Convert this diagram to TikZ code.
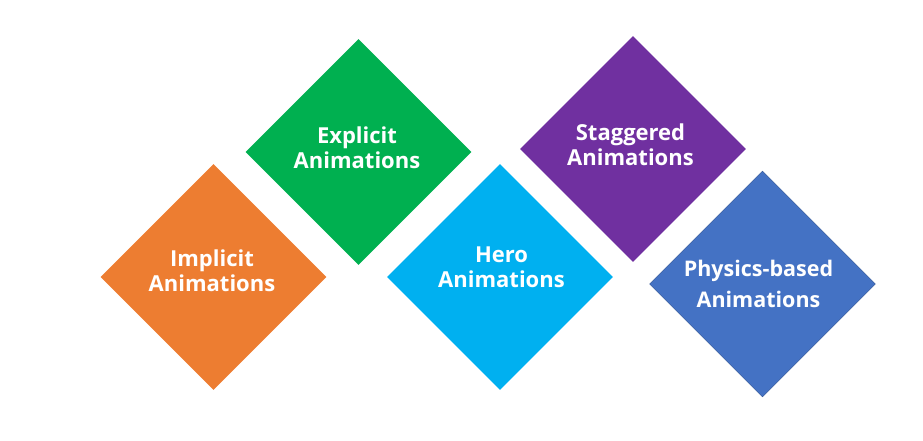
\documentclass[tikz,border=0pt]{standalone}
\usepackage{fontspec}
\setmainfont{Open Sans}
\usetikzlibrary{shapes.geometric}
\usetikzlibrary{positioning}

\definecolor{orangeA}{HTML}{ED7D31}
\definecolor{greenA}{HTML}{00B050}
\definecolor{cyanA}{HTML}{00B0F0}
\definecolor{purpleA}{HTML}{7030A0}
\definecolor{blueA}{HTML}{4472C4}
\definecolor{blueB}{HTML}{2F528F}

\begin{document}
\begin{tikzpicture}[
    x=1pt, y=1pt,
    font=\bfseries\fontsize{22}{25}\selectfont
]
\tikzset{
    dmnd/.style = {diamond, aspect=1, inner sep=0pt, minimum width=226pt, minimum height=226pt, draw=none},
    txt/.style = {align=center, text=white, inner sep=0pt}
}
\useasboundingbox (0,0) rectangle (923,440);
% diamonds
\node[dmnd, fill=orangeA] at (213.5,163) (implicit) {};
\node[dmnd, fill=greenA]  at (358.5,288) (explicit) {};
\node[dmnd, fill=cyanA]   at (500,163)   (hero) {};
\node[dmnd, fill=purpleA] at (633,291)   (staggered) {};
\node[dmnd, fill=blueA, draw=blueB, thin] at (762.5,156) (physics) {};
% labels
\node[txt] at (212,169)   (implicitT) {Implicit\\Animations};
\node[txt] at (357,292)   (explicitT) {Explicit\\Animations};
\node[txt] at (501.5,172.5) (heroT) {Hero\\Animations};
\node[txt] at (630.5,295) (staggeredT) {Staggered\\Animations};
\node[txt, font=\bfseries\fontsize{21.5}{31}\selectfont] at (758.5,156) (physicsT) {Physics-based\\Animations};
\end{tikzpicture}
\end{document}
